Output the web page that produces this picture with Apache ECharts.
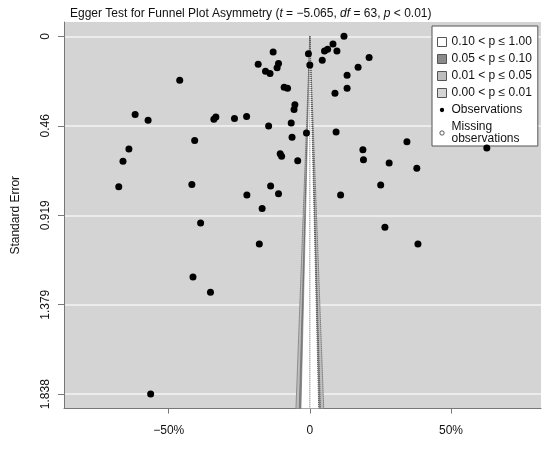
<!DOCTYPE html>
<html><head><meta charset="utf-8">
<script src="https://cdn.jsdelivr.net/npm/echarts@6/dist/echarts.min.js"></script>
<style>html,body{margin:0;padding:0;background:#fff}#c{width:550px;height:463px}</style>
</head><body><div id="c"></div>
<script>
const effectPct = [-13.0,-18.3,-15.7,-14.1,-11.1,-11.6,-46.1,-9.1,-7.9,-5.3,-5.6,-61.9,-57.3,-34.0,-33.3,-26.7,-22.4,-14.6,-6.6,-1.2,-6.3,-40.8,-64.1,-10.5,-10.0,-66.2,-4.3,-0.5,0.0,12.1,8.2,6.3,5.2,9.6,4.4,21.0,17.1,13.2,13.2,8.9,9.3,34.4,18.8,19.0,62.7,-67.7,-41.8,-22.3,-13.9,-11.1,-16.9,-38.7,-17.9,-41.4,-35.2,28.1,37.9,25.1,10.9,26.6,38.3,-56.4];
const stdErr = [0.081,0.144,0.179,0.191,0.140,0.161,0.226,0.262,0.267,0.352,0.376,0.402,0.431,0.426,0.415,0.422,0.412,0.460,0.445,0.497,0.518,0.535,0.579,0.603,0.616,0.642,0.639,0.089,0.147,0.000,0.039,0.067,0.075,0.075,0.123,0.109,0.159,0.200,0.267,0.292,0.491,0.542,0.582,0.634,0.573,0.773,0.761,0.815,0.769,0.809,0.884,0.959,1.067,1.236,1.314,0.651,0.678,0.763,0.815,0.981,1.067,1.837];
const xTicks = [-50, 0, 50];
const yTicks = [0, 0.4595, 0.919, 1.3785, 1.838];
const yTickLabels = ['0', '0.46', '0.919', '1.379', '1.838'];
const xRange = [-87.1, 81.9];
const yRange = [-0.0735, 1.9115];
const contourLabels = ['0.10 < p \u2264 1.00', '0.05 < p \u2264 0.10', '0.01 < p \u2264 0.05', '0.00 < p \u2264 0.01'];
const contourColors = ['#ffffff', '#8a8a8a', '#bdbdbd', '#d4d4d4'];
const contourZ = [1.645, 1.96, 2.576]; // two-sided z for p = .10, .05, .01

const seBottom = yRange[1];
const font = 'Liberation Sans, Arial, Helvetica, sans-serif';

function funnelSeries(idx) {
  const z = contourZ[idx];
  return {
    type: 'custom', name: contourLabels[idx], z: 1 + (2 - idx),
    silent: true, clip: true,
    data: [[z]],
    itemStyle: { color: contourColors[idx] },
    renderItem: function (params, api) {
      const zz = api.value(0);
      const top = api.coord([0, 0]);
      const l = api.coord([-zz * seBottom, seBottom]);
      const r = api.coord([zz * seBottom, seBottom]);
      const children = [
        { type: 'polygon', shape: { points: [top, l, r] }, style: { fill: contourColors[idx], stroke: null } },
        { type: 'polyline', shape: { points: [l, top, r] }, style: { fill: null, stroke: '#555', lineWidth: 1, lineDash: [1, 1] } }
      ];
      if (idx === 0) {
        children.push({ type: 'line', shape: { x1: top[0], y1: top[1], x2: top[0], y2: l[1] }, style: { stroke: '#666', lineWidth: 1, lineDash: [1, 1] } });
      }
      return { type: 'group', children: children };
    }
  };
}

const smallDot = 'path://M0,0M10,10M7.4,5A2.4,2.4,0,1,1,2.6,5A2.4,2.4,0,1,1,7.4,5Z';

const chart = echarts.init(document.getElementById('c'), null, { renderer: 'canvas' });
chart.setOption({
  animation: false,
  backgroundColor: '#ffffff',
  textStyle: { fontFamily: font },
  title: {
    left: 70, top: 8, padding: 0,
    text: '{n|Egger Test for Funnel Plot Asymmetry (}{i|t}{n| = \u22125.065, }{i|df}{n| = 63, }{i|p}{n| < 0.01)}',
    textStyle: {
      fontWeight: 'normal',
      rich: {
        n: { fontSize: 12, color: '#111', fontWeight: 'normal', fontFamily: font },
        i: { fontSize: 12, color: '#111', fontWeight: 'normal', fontStyle: 'italic', fontFamily: font }
      }
    }
  },
  grid: { left: 64, right: 9, top: 22, bottom: 54.5, outerBoundsMode: 'none', containLabel: false, show: true, backgroundColor: '#d4d4d4', borderWidth: 0 },
  legend: {
    orient: 'vertical', left: 432, top: 26,
    padding: [10, 6, 1, 5],
    backgroundColor: '#ffffff', borderColor: '#555', borderWidth: 1, borderRadius: 0,
    itemWidth: 9, itemHeight: 9, itemGap: 5,
    textStyle: { fontSize: 12, color: '#111', lineHeight: 12, fontFamily: font },
    data: [
      { name: contourLabels[0], icon: 'rect', itemStyle: { color: contourColors[0], borderColor: '#555', borderWidth: 1 } },
      { name: contourLabels[1], icon: 'rect', itemStyle: { color: contourColors[1], borderColor: '#555', borderWidth: 1 } },
      { name: contourLabels[2], icon: 'rect', itemStyle: { color: contourColors[2], borderColor: '#555', borderWidth: 1 } },
      { name: contourLabels[3], icon: 'rect', itemStyle: { color: contourColors[3], borderColor: '#555', borderWidth: 1 } },
      { name: 'Observations', icon: smallDot, itemStyle: { color: '#000', borderWidth: 0 } },
      { name: 'Missing\nobservations', icon: smallDot, itemStyle: { color: '#fff', borderColor: '#000', borderWidth: 0.8 } }
    ]
  },
  xAxis: {
    type: 'value', min: xRange[0], max: xRange[1],
    axisLine: { show: true, onZero: false, lineStyle: { color: '#777', width: 1 } },
    axisTick: { show: true, length: 5, customValues: xTicks, lineStyle: { color: '#777' } },
    axisLabel: {
      customValues: xTicks, margin: 16, fontSize: 12, color: '#111', fontFamily: font,
      formatter: function (v) { return v === 0 ? '0' : (v < 0 ? '\u2212' : '') + Math.abs(v) + '%'; }
    },
    splitLine: { show: false }
  },
  yAxis: {
    type: 'value', inverse: true, min: yRange[0], max: yRange[1],
    name: 'Standard Error', nameLocation: 'middle', nameRotate: 90, nameGap: 42,
    nameTextStyle: { fontSize: 12, color: '#111', fontFamily: font },
    axisLine: { show: true, onZero: false, lineStyle: { color: '#777', width: 1 } },
    axisTick: { show: true, length: 6, customValues: yTicks, lineStyle: { color: '#777' } },
    axisLabel: {
      customValues: yTicks, rotate: 90, margin: 12, fontSize: 12, color: '#111', fontFamily: font,
      formatter: function (v) {
        let best = 0;
        yTicks.forEach(function (t, i) { if (Math.abs(t - v) < Math.abs(yTicks[best] - v)) best = i; });
        return yTickLabels[best];
      }
    },
    splitLine: { show: true, lineStyle: { color: '#f4f4f4', width: 1.5 } }
  },
  series: [
    funnelSeries(2),
    funnelSeries(1),
    funnelSeries(0),
    { type: 'custom', name: contourLabels[3], data: [], itemStyle: { color: contourColors[3] }, renderItem: function () { return null; } },
    {
      type: 'scatter', name: 'Observations', z: 10,
      symbol: 'circle', symbolSize: 7,
      itemStyle: { color: '#000', opacity: 1 },
      data: effectPct.map(function (x, i) { return [x, stdErr[i]]; })
    },
    {
      type: 'scatter', name: 'Missing\nobservations', z: 10,
      symbol: 'circle', symbolSize: 7,
      itemStyle: { color: '#fff', borderColor: '#000', borderWidth: 1 },
      data: []
    }
  ]
});
</script></body></html>
